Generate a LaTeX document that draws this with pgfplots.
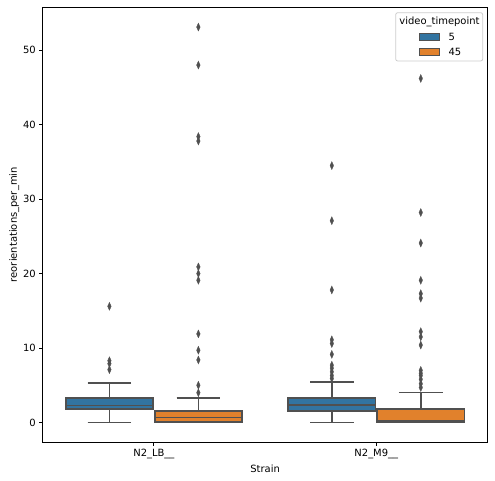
\documentclass[border=0pt]{standalone}
\usepackage{pgfplots}
\pgfplotsset{compat=1.18}
\usepgfplotslibrary{statistics}
\usepackage{fontspec}
\setmainfont{DejaVu Sans}
\definecolor{sbblue}{HTML}{3274A1}
\definecolor{sborange}{HTML}{E1812C}
\definecolor{boxgray}{HTML}{505050}
\definecolor{leggray}{HTML}{CCCCCC}
\begin{document}
\begin{tikzpicture}
\begin{axis}[
  name=ax,
  scale only axis,
  width=444.8bp, height=435.3bp,
  xmin=-0.5, xmax=1.5,
  ymin=-2.66, ymax=55.8,
  xtick={0,1},
  xticklabels={N2\_LB\_\_, N2\_M9\_\_},
  ytick={0,10,20,30,40,50},
  tick align=outside,
  xtick pos=bottom, ytick pos=left,
  major tick length=3.5bp,
  tick style={black, line width=0.8bp},
  axis line style={line width=0.8bp},
  /pgf/number format/assume math mode=true,
  tick label style={font=\fontsize{10}{12}\selectfont},
  label style={font=\fontsize{10}{12}\selectfont},
  xlabel={Strain},
  ylabel={reorientations\_per\_min},
  ylabel style={yshift=-3bp},
  xlabel style={yshift=1bp},
  boxplot/draw direction=y,
  clip=false,
]
% N2_LB__, timepoint 5
\addplot[fill=sbblue, draw=boxgray, line width=1.5bp,
  boxplot prepared={lower whisker=0.0, lower quartile=1.8, median=2.3,
    upper quartile=3.3, upper whisker=5.3,
    draw position=-0.2, box extend=0.392, whisker extend=0.196}]
  coordinates {};
% N2_LB__, timepoint 45
\addplot[fill=sborange, draw=boxgray, line width=1.5bp,
  boxplot prepared={lower whisker=0.0, lower quartile=0.05, median=0.65,
    upper quartile=1.55, upper whisker=3.3,
    draw position=0.2, box extend=0.392, whisker extend=0.196}]
  coordinates {};
% N2_M9__, timepoint 5
\addplot[fill=sbblue, draw=boxgray, line width=1.5bp,
  boxplot prepared={lower whisker=0.0, lower quartile=1.55, median=2.35,
    upper quartile=3.3, upper whisker=5.45,
    draw position=0.8, box extend=0.392, whisker extend=0.196}]
  coordinates {};
% N2_M9__, timepoint 45
\addplot[fill=sborange, draw=boxgray, line width=1.5bp,
  boxplot prepared={lower whisker=0.0, lower quartile=0.05, median=0.3,
    upper quartile=1.8, upper whisker=4.0,
    draw position=1.2, box extend=0.392, whisker extend=0.196}]
  coordinates {};
% outliers
\addplot[only marks, mark=diamond*, mark size=4bp,
  mark options={xscale=0.6, fill=boxgray, draw=boxgray, line width=0.3bp}]
  coordinates {
    (-0.2,15.6) (-0.2,8.3) (-0.2,7.9) (-0.2,7.1)
    (0.2,53.1) (0.2,48.0) (0.2,38.4) (0.2,37.8) (0.2,20.9) (0.2,20.0)
    (0.2,19.1) (0.2,11.9) (0.2,9.7) (0.2,8.4) (0.2,5.0) (0.2,4.0)
    (0.8,34.5) (0.8,27.1) (0.8,17.8) (0.8,11.1) (0.8,10.6) (0.8,9.15)
    (0.8,7.7) (0.8,7.3) (0.8,6.8) (0.8,6.3) (0.8,5.9)
    (1.2,46.2) (1.2,28.2) (1.2,24.1) (1.2,19.1) (1.2,17.3) (1.2,16.7)
    (1.2,12.2) (1.2,11.5) (1.2,10.4) (1.2,7.0) (1.2,6.6) (1.2,6.3)
    (1.2,5.8) (1.2,5.2) (1.2,4.7)
  };
\end{axis}
% legend
\begin{scope}[shift={(ax.north east)}, font=\fontsize{10}{12}\selectfont]
  \draw[draw=leggray, fill=white, rounded corners=2bp, line width=0.8bp]
    (-91.8bp,-54bp) rectangle (-4.8bp,-5.7bp);
  \node[inner sep=0pt] at (-48bp,-14.7bp) {video\_timepoint};
  \filldraw[fill=sbblue, draw=boxgray, line width=0.8bp]
    (-68.5bp,-33.3bp) rectangle (-48.2bp,-26.1bp);
  \node[anchor=west, inner sep=0pt] at (-39.2bp,-29.7bp) {5};
  \filldraw[fill=sborange, draw=boxgray, line width=0.8bp]
    (-68.5bp,-48.3bp) rectangle (-48.2bp,-41.1bp);
  \node[anchor=west, inner sep=0pt] at (-39.2bp,-44.7bp) {45};
\end{scope}
\path ([xshift=-42.7bp,yshift=-38.7bp]ax.south west)
  rectangle ([xshift=7.5bp,yshift=7bp]ax.north east);
\end{tikzpicture}
\end{document}
